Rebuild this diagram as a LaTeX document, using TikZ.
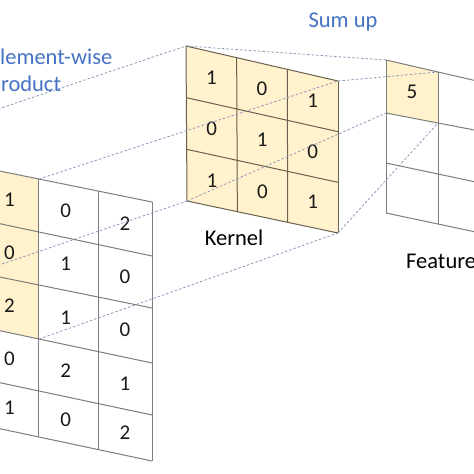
\documentclass[tikz,border=0pt]{standalone}
\usepackage{fontspec}
\setmainfont{Carlito}
\usetikzlibrary{calc}
\definecolor{hl}{HTML}{FFF2CC}
\definecolor{lblue}{HTML}{4472C4}
\definecolor{kline}{RGB}{105,96,78}
\definecolor{gline}{RGB}{125,125,125}
\definecolor{dline}{RGB}{140,152,185}
\tikzset{
  kgrid/.style={draw=kline, line width=1pt},
  ggrid/.style={draw=gline, line width=1pt},
  proj/.style={draw=dline, line width=0.8pt, dash pattern=on 2.5pt off 2pt},
  digit/.style={inner sep=0pt, font=\fontsize{21}{24}\selectfont, text=black!90},
  lbl/.style={inner sep=0pt, font=\fontsize{22.5}{27}\selectfont},
}
\begin{document}
\begin{tikzpicture}[x=1pt,y=-1pt]
\useasboundingbox (0,0) rectangle (474,474);
\clip (0,0) rectangle (474,474);

% ---------- Kernel ----------
\coordinate (kTL) at (186,46);
\coordinate (kTR) at (338,81);
\coordinate (kBL) at (187,201);
\coordinate (kBR) at (338,233);
\foreach \j in {0,1,2,3} {
  \coordinate (kl-\j) at ($(kTL)!\j/3!(kBL)$);
  \coordinate (kr-\j) at ($(kTR)!\j/3!(kBR)$);
}
\foreach \j in {0,1,2,3} {
  \foreach \i in {0,1,2,3} {
    \coordinate (k-\i-\j) at ($(kl-\j)!\i/3!(kr-\j)$);
  }
}
\fill[hl] (kTL) -- (kTR) -- (kBR) -- (kBL) -- cycle;
\foreach \j in {0,1,2,3} \draw[kgrid] (kl-\j) -- (kr-\j);
\foreach \i in {0,1,2,3} \draw[kgrid] (k-\i-0) -- (k-\i-3);
\foreach \i/\j/\v in {0/0/1,1/0/0,2/0/1,0/1/0,1/1/1,2/1/0,0/2/1,1/2/0,2/2/1} {
  \pgfmathtruncatemacro\ii{\i+1}
  \pgfmathtruncatemacro\jj{\j+1}
  \node[digit] (kd-\i-\j) at ($(k-\i-\j)!0.5!(k-\ii-\jj)$) {\v};
}

% ---------- Input ----------
\coordinate (inL-0) at (-140,142.6); \coordinate (inR-0) at (152,202);
\coordinate (inL-1) at (-140,194);   \coordinate (inR-1) at (152,256);
\coordinate (inL-2) at (-140,248.6); \coordinate (inR-2) at (152,308);
\coordinate (inL-3) at (-140,301);   \coordinate (inR-3) at (152,363);
\coordinate (inL-4) at (-140,353);   \coordinate (inR-4) at (152,415);
\coordinate (inL-5) at (-140,399);   \coordinate (inR-5) at (152,461);
\coordinate (inTR) at ($(inL-0)!0.613!(inR-0)$);
\coordinate (inBR) at ($(inL-3)!0.613!(inR-3)$);
\coordinate (inTL) at (-130,152);
\coordinate (inBL) at (-130,309);
\fill[hl] (inL-0) -- (inTR) -- (inBR) -- (inL-3) -- cycle;
\foreach \r in {0,...,5} \draw[ggrid] (inL-\r) -- (inR-\r);
\foreach \t in {0.613,0.8151,1} \draw[ggrid] ($(inL-0)!\t!(inR-0)$) -- ($(inL-5)!\t!(inR-5)$);
\foreach \r/\va/\vb/\vc in {0/1/0/2,1/0/1/0,2/2/1/0,3/0/2/1,4/1/0/2} {
  \pgfmathtruncatemacro\rr{\r+1}
  \node[digit] (ia-\r) at ($($(inL-\r)!0.512!(inR-\r)$)!0.5!($(inL-\rr)!0.512!(inR-\rr)$)$) {\va};
  \node[digit] (ib-\r) at ($($(inL-\r)!0.7041!(inR-\r)$)!0.5!($(inL-\rr)!0.7041!(inR-\rr)$)$) {\vb};
  \node[digit] (ic-\r) at ($($(inL-\r)!0.9075!(inR-\r)$)!0.5!($(inL-\rr)!0.9075!(inR-\rr)$)$) {\vc};
}

% ---------- Feature map ----------
\coordinate (fL-0) at (386,60);  \coordinate (fR-0) at (438,72);
\coordinate (fL-1) at (386,113); \coordinate (fR-1) at (438,123);
\coordinate (fL-2) at (386,163); \coordinate (fR-2) at (438,174);
\coordinate (fL-3) at (386,213); \coordinate (fR-3) at (438,224);
\fill[hl] (fL-0) -- (fR-0) -- (fR-1) -- (fL-1) -- cycle;
\foreach \r in {0,...,3} \draw[ggrid] (fL-\r) -- ($(fL-\r)!3.5!(fR-\r)$);
\foreach \t in {0,1,2,3} \draw[ggrid] ($(fL-0)!\t!(fR-0)$) -- ($(fL-3)!\t!(fR-3)$);
\node[digit] (fd) at ($(fL-0)!0.5!(fR-1)$) {5};

% ---------- Projection lines ----------
\draw[proj] (inTL) -- (kTL);
\draw[proj] (inTR) -- (kTR);
\draw[proj] (inBL) -- (kBL);
\draw[proj] (inBR) -- (kBR);
\draw[proj] (kTL) -- (fL-0);
\draw[proj] (kTR) -- (fR-0);
\draw[proj] (kBL) -- (fL-1);
\draw[proj] (kBR) -- (fR-1);

% ---------- Labels ----------
\node[lbl, text=lblue] (sumup) at (343,22) {Sum up};
\node[lbl, text=lblue, anchor=west, align=left] (ewp) at (-11,72) {Element-wise\\product};
\node[lbl] (klab) at (234,238) {Kernel};
\node[lbl, anchor=west] (flab) at (406,263) {Feature map};
\end{tikzpicture}
\end{document}
